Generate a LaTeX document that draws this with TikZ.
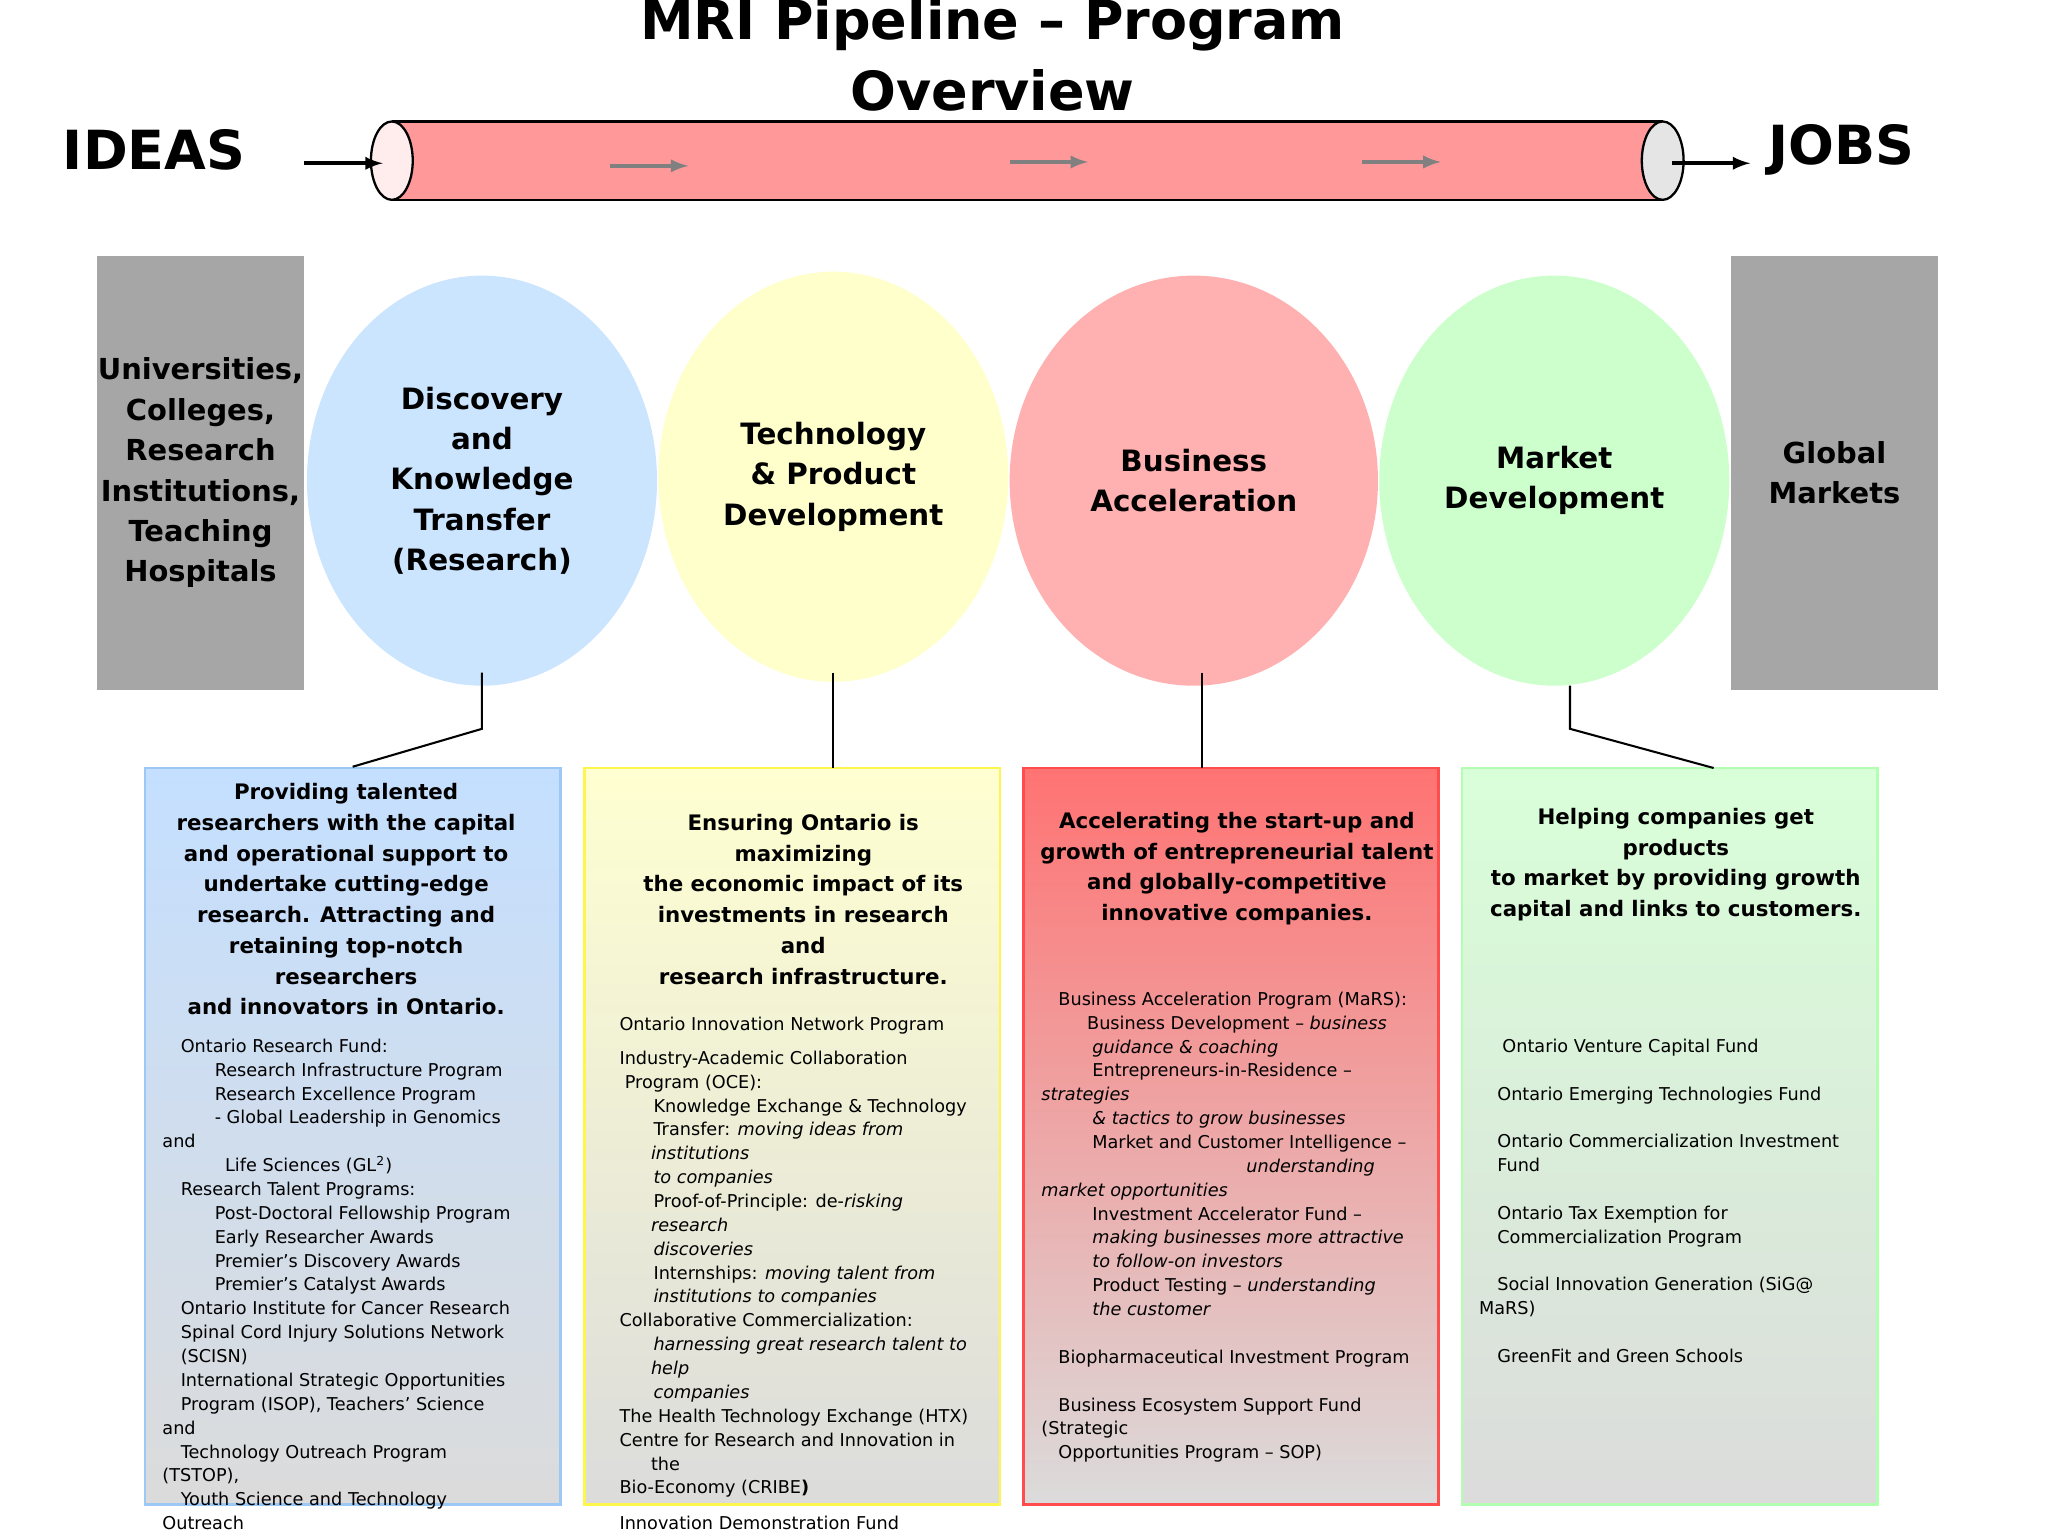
\documentclass[tikz,border=0pt]{standalone}
\usepackage{fontspec}
\setmainfont{DejaVu Sans}
\usetikzlibrary{shapes.geometric,arrows}

\definecolor{pipered}{HTML}{FF9999}
\definecolor{greybox}{HTML}{A6A6A6}
\definecolor{discblue}{HTML}{CCE5FF}
\definecolor{techyel}{HTML}{FFFFCC}
\definecolor{bizred}{HTML}{FFB0B0}
\definecolor{mktgreen}{HTML}{CCFFCC}
\definecolor{disctop}{HTML}{C4DFFF}
\definecolor{discline}{HTML}{9CC8F5}

\newcommand\ind[1]{\hspace*{#1pt}}

\tikzset{
  bigword/.style={font=\fontsize{23.5}{31}\selectfont\bfseries},
  stage/.style={ellipse,draw=none,minimum width=53.6mm,minimum height=62.8mm,align=center,
    font=\fontsize{12.8}{17.6}\selectfont\bfseries},
  sidebox/.style={rectangle,fill=greybox,inner sep=0pt,minimum width=31.8mm,minimum height=66.4mm,align=center,
    font=\fontsize{12.6}{17.6}\selectfont\bfseries},
  progbox/.style={rectangle,line width=1.1pt,minimum width=63.6mm,minimum height=112.8mm,bottom color=gray!28},
  head/.style={align=center,font=\fontsize{9.3}{13.4}\selectfont\bfseries},
  items/.style={align=left,anchor=north west,inner sep=0pt,font=\fontsize{7.7}{10.4}\selectfont},
  link/.style={line width=0.9pt},
  flow/.style={-latex,line width=1.6pt}
}

\begin{document}
\begin{tikzpicture}[x=0.2mm,y=-0.2mm]
\useasboundingbox (0,0) rectangle (1568,1176);

% title and the pipeline
\node[bigword,align=center] (title) at (760,42) {MRI Pipeline -- Program\\Overview};
\node[bigword] (ideas) at (118,115) {IDEAS};
\node[bigword] (jobs) at (1410,115) {JOBS};
\fill[pipered] (300,93) rectangle (1273,153);
\draw[line width=1pt] (300,93) -- (1273,93) (300,153) -- (1273,153);
\draw[line width=1pt,fill=pink!30] (300,123) ellipse (16 and 30);
\draw[line width=1pt,fill=gray!20] (1273,123) ellipse (16 and 30);
\coordinate (pin) at (293,125);
\coordinate (pout) at (1280,125);
\draw[flow] (233,125) -- (pin);
\draw[flow] (pout) -- (1340,125);
\draw[flow,gray] (467,127) -- (527,127);
\draw[flow,gray] (773,124) -- (833,124);
\draw[flow,gray] (1043,124) -- (1103,124);

% stages
\node[sidebox] (unis) at (153.5,362) {Universities,\\Colleges,\\Research\\Institutions,\\Teaching\\Hospitals};
\node[sidebox] (global) at (1404.5,362) {Global\\Markets};
\node[stage,fill=discblue] (disc) at (369,368) {Discovery\\and\\Knowledge\\Transfer\\(Research)};
\node[stage,fill=techyel] (tech) at (638,365) {Technology\\\& Product\\Development};
\node[stage,fill=bizred,minimum width=56.4mm] (biz) at (914,368) {Business\\Acceleration};
\node[stage,fill=mktgreen] (mkt) at (1190,368) {Market\\Development};

% program boxes
\node[progbox,draw=discline,top color=disctop] (discbox) at (270,870) {};
\node[progbox,draw=yellow!70,top color=yellow!18] (techbox) at (606.5,870) {};
\node[progbox,draw=red!70,top color=red!55] (bizbox) at (942.5,870) {};
\node[progbox,draw=green!30,top color=green!15] (mktbox) at (1278.5,870) {};

% connectors
\coordinate (dbend) at (369,558);
\coordinate (mbend) at (1202,558);
\draw[link] (369,515) -- (dbend) -- (discbox.north);
\draw[link] (638,515) -- (638,588);
\draw[link] (920,515) -- (920,588);
\draw[link] (1202,525) -- (mbend) -- (1312,588);

% box texts
\node[head] (dhead) at (265,688.5) {Providing talented\\researchers with the capital\\and operational support to\\undertake cutting-edge\\research. Attracting and\\retaining top-notch\\researchers\\and innovators in Ontario.};
\node[head] (thead) at (615,688.5) {Ensuring Ontario is\\maximizing\\the economic impact of its\\investments in research\\and\\research infrastructure.};
\node[head] (bhead) at (947,665) {Accelerating the start-up and\\growth of entrepreneurial talent\\and globally-competitive\\innovative companies.};
\node[head] (mhead) at (1283,662) {Helping companies get\\products\\to market by providing growth\\capital and links to customers.};

\node[items] (ditems) at (124,795) {\ind{8}Ontario Research Fund:\\
\ind{22.8}Research Infrastructure Program\\
\ind{22.8}Research Excellence Program\\
\ind{22.8}- Global Leadership in Genomics\\
and\\
\ind{27.3}Life Sciences (GL\textsuperscript{2})\\
\ind{8}Research Talent Programs:\\
\ind{22.8}Post-Doctoral Fellowship Program\\
\ind{22.8}Early Researcher Awards\\
\ind{22.8}Premier’s Discovery Awards\\
\ind{22.8}Premier’s Catalyst Awards\\
\ind{8}Ontario Institute for Cancer Research\\
\ind{8}Spinal Cord Injury Solutions Network\\
\ind{8}(SCISN)\\
\ind{8}International Strategic Opportunities\\
\ind{8}Program (ISOP), Teachers’ Science\\
and\\
\ind{8}Technology Outreach Program\\
(TSTOP),\\
\ind{8}Youth Science and Technology\\
Outreach};

\node[items] (titems) at (474,778) {Ontario Innovation Network Program\\[4.5pt]
Industry-Academic Collaboration\\
\ind{2.3}Program (OCE):\\
\ind{14.8}Knowledge Exchange \& Technology\\
\ind{14.8}Transfer: \textit{moving ideas from}\\
\ind{13.7}\textit{institutions}\\
\ind{14.8}\textit{to companies}\\
\ind{14.8}Proof-of-Principle: de-\textit{risking}\\
\ind{13.7}\textit{research}\\
\ind{14.8}\textit{discoveries}\\
\ind{14.8}Internships: \textit{moving talent from}\\
\ind{14.8}\textit{institutions to companies}\\
Collaborative Commercialization:\\
\ind{14.8}\textit{harnessing great research talent to}\\
\ind{13.7}\textit{help}\\
\ind{14.8}\textit{companies}\\
The Health Technology Exchange (HTX)\\
Centre for Research and Innovation in\\
\ind{13.7}the\\
Bio-Economy (CRIBE\textbf{)}\\[5pt]
Innovation Demonstration Fund};

\node[items] (bitems) at (797,759) {\ind{7.4}Business Acceleration Program (MaRS):\\
\ind{19.9}Business Development -- \textit{business}\\
\ind{22.2}\textit{guidance \& coaching}\\
\ind{22.2}Entrepreneurs-in-Residence --\\
\textit{strategies}\\
\ind{22.2}\textit{\& tactics to grow businesses}\\
\ind{22.2}Market and Customer Intelligence --\\
\ind{89.3}\textit{understanding}\\
\textit{market opportunities}\\
\ind{22.2}Investment Accelerator Fund --\\
\ind{22.2}\textit{making businesses more attractive}\\
\ind{22.2}\textit{to follow-on investors}\\
\ind{22.2}Product Testing -- \textit{understanding}\\
\ind{22.2}\textit{the customer}\\[10.4pt]
\ind{7.4}Biopharmaceutical Investment Program\\[10.4pt]
\ind{7.4}Business Ecosystem Support Fund\\
(Strategic\\
\ind{7.4}Opportunities Program -- SOP)};

\node[items] (mitems) at (1132,795) {\ind{10.2}Ontario Venture Capital Fund\\[10.4pt]
\ind{8}Ontario Emerging Technologies Fund\\[10.4pt]
\ind{8}Ontario Commercialization Investment\\
\ind{8}Fund\\[10.4pt]
\ind{8}Ontario Tax Exemption for\\
\ind{8}Commercialization Program\\[10.4pt]
\ind{8}Social Innovation Generation (SiG@\\
MaRS)\\[10.4pt]
\ind{8}GreenFit and Green Schools};
\end{tikzpicture}
\end{document}
